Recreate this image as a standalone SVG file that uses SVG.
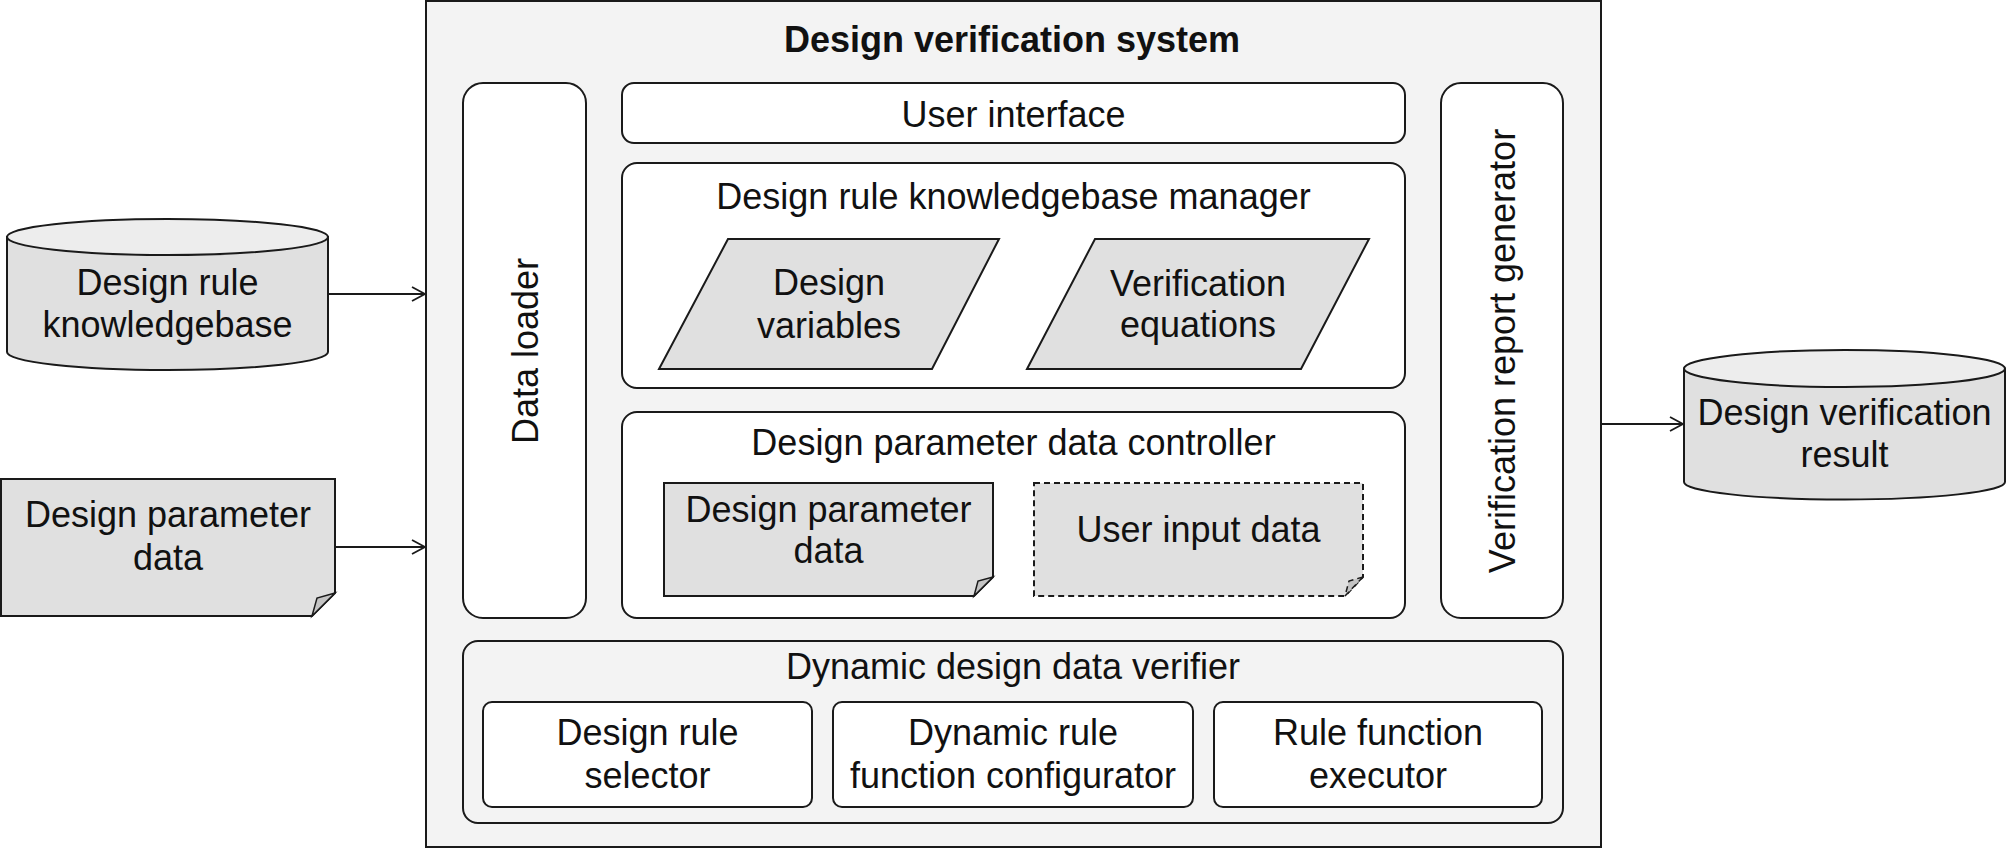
<svg xmlns="http://www.w3.org/2000/svg" width="2008" height="849" viewBox="0 0 2008 849">
<defs>
<style>
text{font-family:"Liberation Sans",Arial,sans-serif;font-size:36px;fill:#111;text-anchor:middle}
.b{font-weight:bold}
.ln{stroke:#1a1a1a;stroke-width:2;fill:none}
.wh{fill:#fff;stroke:#1a1a1a;stroke-width:2}
.gy{fill:#e0e0e0;stroke:#1a1a1a;stroke-width:2}
.lt{fill:#ededed;stroke:#1a1a1a;stroke-width:2}
.bg{fill:#f3f3f3;stroke:#1a1a1a;stroke-width:2}
.fold{fill:#c4c4c4;stroke:#1a1a1a;stroke-width:1.5}
.dash{stroke-dasharray:6 4}
</style>
<marker id="arr" viewBox="0 0 14 16" refX="14" refY="8" markerWidth="14" markerHeight="16" markerUnits="userSpaceOnUse" orient="auto">
<path d="M1,1 L14,8 L1,15" fill="none" stroke="#1a1a1a" stroke-width="1.8"/>
</marker>
</defs>
<rect width="2008" height="849" fill="#fff"/>

<g id="system">
<rect class="bg" x="426" y="1" width="1175" height="846"/>
<text class="b" x="1012" y="52">Design verification system</text>
</g>

<g id="data-loader">
<rect class="wh" x="463" y="83" width="123" height="535" rx="20"/>
<text transform="translate(538,351) rotate(-90)">Data loader</text>
</g>

<g id="user-interface">
<rect class="wh" x="622" y="83" width="783" height="60" rx="12"/>
<text x="1013.5" y="127">User interface</text>
</g>

<g id="kb-manager">
<rect class="wh" x="622" y="163" width="783" height="225" rx="15"/>
<text x="1013.5" y="209">Design rule knowledgebase manager</text>
</g>

<g id="design-variables">
<polygon class="gy" points="728,239 999,239 932,369 659,369"/>
<text x="829" y="295">Design</text>
<text x="829" y="338">variables</text>
</g>

<g id="verification-equations">
<polygon class="gy" points="1095,239 1369,239 1301,369 1027,369"/>
<text x="1198" y="296">Verification</text>
<text x="1198" y="337">equations</text>
</g>

<g id="param-controller">
<rect class="wh" x="622" y="412" width="783" height="206" rx="15"/>
<text x="1013.5" y="455">Design parameter data controller</text>
</g>

<g id="inner-param-data">
<path class="gy" d="M664,483 H993 V577 L974,596 H664 Z"/>
<path class="fold" d="M993,577 L978,581 L974,596 Z"/>
<text x="828.5" y="522">Design parameter</text>
<text x="828.5" y="563">data</text>
</g>

<g id="user-input-data">
<path class="gy dash" d="M1034,483 H1363 V577 L1345,596 H1034 Z"/>
<path class="fold dash" d="M1363,577 L1349,581 L1345,596 Z"/>
<text x="1198.5" y="542">User input data</text>
</g>

<g id="report-generator">
<rect class="wh" x="1441" y="83" width="122" height="535" rx="20"/>
<text transform="translate(1515,351) rotate(-90)">Verification report generator</text>
</g>

<g id="data-verifier">
<rect class="bg" x="463" y="641" width="1100" height="182" rx="15"/>
<text x="1013" y="679">Dynamic design data verifier</text>
</g>

<g id="rule-selector">
<rect class="wh" x="483" y="702" width="329" height="105" rx="9"/>
<text x="647.5" y="745">Design rule</text>
<text x="647.5" y="788">selector</text>
</g>

<g id="function-configurator">
<rect class="wh" x="833" y="702" width="360" height="105" rx="9"/>
<text x="1013" y="745">Dynamic rule</text>
<text x="1013" y="788">function configurator</text>
</g>

<g id="function-executor">
<rect class="wh" x="1214" y="702" width="328" height="105" rx="9"/>
<text x="1378" y="745">Rule function</text>
<text x="1378" y="788">executor</text>
</g>

<g id="kb-store">
<path class="gy" d="M7,237 V352 A160.5 18 0 0 0 328 352 V237 Z"/>
<ellipse class="lt" cx="167.5" cy="237" rx="160.5" ry="18"/>
<text x="167.5" y="295">Design rule</text>
<text x="167.5" y="337">knowledgebase</text>
</g>

<g id="ext-param-data">
<path class="gy" d="M1,479 H335 V593 L312,616 H1 Z"/>
<path class="fold" d="M335,593 L317,598 L312,616 Z"/>
<text x="168" y="527">Design parameter</text>
<text x="168" y="570">data</text>
</g>

<g id="result-store">
<path class="gy" d="M1684,368.5 V482 A160.5 17.5 0 0 0 2005 482 V368.5 Z"/>
<ellipse class="lt" cx="1844.5" cy="368.5" rx="160.5" ry="18.5"/>
<text x="1844.5" y="425">Design verification</text>
<text x="1844.5" y="467">result</text>
</g>

<g id="connectors">
<line class="ln" x1="328" y1="294" x2="425" y2="294" stroke-width="1.8" marker-end="url(#arr)"/>
<line class="ln" x1="335" y1="547" x2="425" y2="547" stroke-width="1.8" marker-end="url(#arr)"/>
<line class="ln" x1="1601" y1="424" x2="1683" y2="424" stroke-width="1.8" marker-end="url(#arr)"/>
</g>
</svg>
